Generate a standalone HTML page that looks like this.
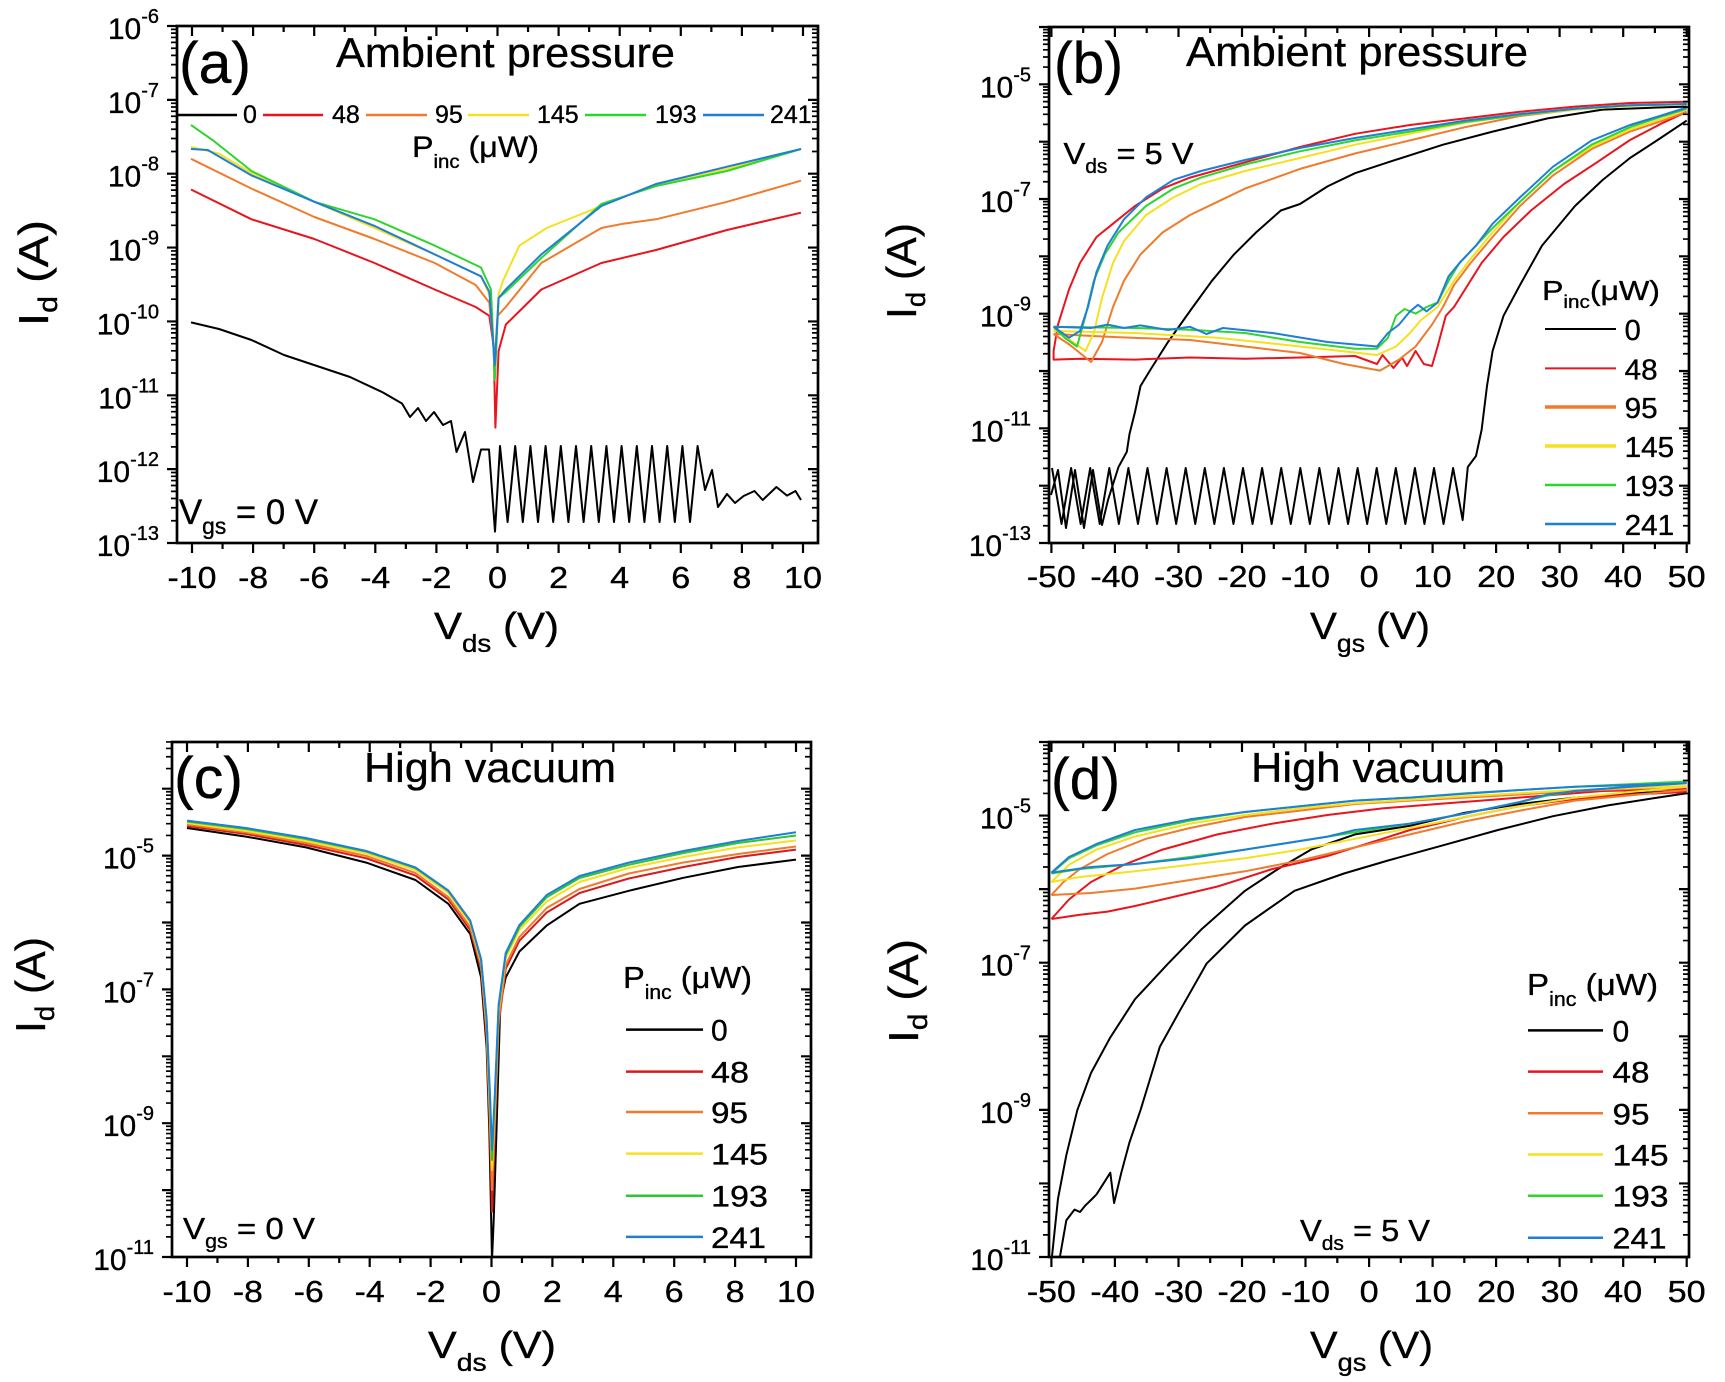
<!DOCTYPE html>
<html><head><meta charset="utf-8">
<style>
html,body{margin:0;padding:0;background:#fff}
svg{display:block}
text{font-family:"Liberation Sans",Arial,sans-serif;fill:#000;stroke:#000;stroke-width:0.35px}
</style></head>
<body>
<svg width="1725" height="1382" viewBox="0 0 1725 1382">
<defs>
<path id="m" d="M0,-0.30103h-6M0,-0.47712h-6M0,-0.60206h-6M0,-0.69897h-6M0,-0.77815h-6M0,-0.8451h-6M0,-0.90309h-6M0,-0.95424h-6" stroke="#000" stroke-width="1.7" vector-effect="non-scaling-stroke" fill="none"/>
<g id="xa" stroke="#000" stroke-width="2.2" fill="none"><path d="M192,0v10M253.1,0v10M314.2,0v10M375.3,0v10M436.4,0v10M497.5,0v10M558.6,0v10M619.7,0v10M680.8,0v10M741.9,0v10M803,0v10M222.55,0v6M283.65,0v6M344.75,0v6M405.85,0v6M466.95,0v6M528.05,0v6M589.15,0v6M650.25,0v6M711.35,0v6M772.45,0v6"/></g>
<g id="xc" stroke="#000" stroke-width="2.2" fill="none"><path d="M187,0v10M247.9,0v10M308.8,0v10M369.7,0v10M430.6,0v10M491.5,0v10M552.4,0v10M613.3,0v10M674.2,0v10M735.1,0v10M796,0v10M217.45,0v6M278.35,0v6M339.25,0v6M400.15,0v6M461.05,0v6M521.95,0v6M582.85,0v6M643.75,0v6M704.65,0v6M765.55,0v6"/></g>
<g id="xb" stroke="#000" stroke-width="2.2" fill="none"><path d="M1051.4,0v10M1114.9,0v10M1178.5,0v10M1242,0v10M1305.5,0v10M1369.1,0v10M1432.6,0v10M1496.1,0v10M1559.6,0v10M1623.2,0v10M1686.7,0v10M1083.2,0v6M1146.7,0v6M1210.2,0v6M1273.8,0v6M1337.3,0v6M1400.8,0v6M1464.3,0v6M1527.9,0v6M1591.4,0v6M1654.9,0v6"/></g>
<clipPath id="ca"><rect x="177" y="26" width="641" height="517"/></clipPath>
<clipPath id="cb"><rect x="1049" y="27" width="640" height="516"/></clipPath>
<clipPath id="cc"><rect x="172" y="742" width="639" height="515"/></clipPath>
<clipPath id="cd"><rect x="1049" y="742" width="640" height="515"/></clipPath>
<clipPath id="ctc"><rect x="140" y="741" width="700" height="520"/></clipPath>
</defs>
<rect width="1725" height="1382" fill="#fff"/>

<!-- ================= PANEL A ================= -->
<g fill="none" stroke-width="2" stroke-linejoin="round" clip-path="url(#ca)">
<path stroke="#000" d="M191,322.4 L219,329 L251.5,340 L284,355 L317,366 L350,377 L383,392.5 L402,403.5 L410,417 L418,408 L426,421 L434,412 L443,425 L451,421 L456.5,452 L465,432 L473,482 L481,449.5 L489,449.5 L495,531.6 L500,446 L507.6,522 L515.2,446 L522.8,522 L530.4,446 L538,522 L545.6,446 L553.2,522 L560.8,446 L568.4,522 L576,446 L583.6,522 L591.2,446 L598.8,522 L606.4,446 L614,522 L621.6,446 L629.2,522 L636.8,446 L644.4,522 L652,446 L659.6,522 L667.2,446 L674.8,522 L682.4,446 L690,522 L697.6,446 L705,490 L712,470 L718,507 L727,494 L735,503 L743.6,496 L754.5,491 L762.7,500 L776.4,487 L787,495.6 L795.5,491 L801,500"/>
<path stroke="#e8141e" d="M191,189.5 L251.5,219.3 L314.4,239 L374.5,263 L434.7,289.5 L475.7,307 L489.3,315.8 L493.7,346.5 L495.4,427.6 L498.6,351 L505.8,324.6 L541.3,289.5 L601.4,263 L656,250 L727,230 L801,212.7"/>
<path stroke="#f07b2c" d="M191,158.8 L251.5,188.6 L314.4,217 L374.5,239 L434.7,263 L475.7,285 L489.3,302.6 L494.8,360 L497.5,315.8 L505.7,307 L541.3,263 L601.4,228 L623.3,223.7 L656,219.3 L727,201.8 L801,180.7"/>
<path stroke="#f5e11e" d="M191,147 L218.7,153.5 L251.5,173 L314.4,201.8 L374.5,228 L434.7,254.4 L481,276.3 L491,298 L494.8,370 L498.6,294 L503,280.7 L519.4,245.6 L546.7,228 L601.4,206 L656,184 L727,168.9 L801,149"/>
<path stroke="#2ed52e" d="M191,125 L213,140.4 L251.5,171 L314.4,201.8 L374.5,219.3 L434.7,245.6 L481,267.5 L491,289.5 L494.8,380 L498.6,298 L505.7,292 L541.3,258 L601.4,204 L656,186 L727,171 L801,149"/>
<path stroke="#1f7fd6" d="M191,149 L207.8,150 L251.5,175.4 L314.4,201.8 L374.5,225.9 L434.7,254.4 L481,276.3 L489.3,291.7 L494.8,365 L498.6,298 L505.7,289.5 L541.3,254.4 L601.4,206 L656,184 L727,166.7 L801,149"/>
</g>
<g stroke-width="2.5" fill="none">
<path stroke="#000" d="M178,115H237"/>
<path stroke="#e8141e" d="M263,115H323"/>
<path stroke="#f07b2c" d="M366,115H427"/>
<path stroke="#f5e11e" d="M468,115H529"/>
<path stroke="#2ed52e" d="M585,115H646"/>
<path stroke="#1f7fd6" d="M703,115H764"/>
</g>
<g font-size="25">
<text x="243" y="123">0</text>
<text x="332" y="123">48</text>
<text x="435" y="123">95</text>
<text x="537" y="123">145</text>
<text x="655" y="123">193</text>
<text x="770" y="123">241</text>
</g>
<text x="412" y="157" font-size="30" textLength="127" lengthAdjust="spacingAndGlyphs">P<tspan font-size="19" dy="11">inc</tspan><tspan dy="-11"> (μW)</tspan></text>
<rect x="177" y="26" width="641" height="517" fill="none" stroke="#000" stroke-width="2.7"/>
<use href="#xa" y="543"/><use href="#xa" y="26"/>
<path stroke="#000" stroke-width="2.2" d="M177,26h-10M177,99.86h-10M177,173.71h-10M177,247.57h-10M177,321.43h-10M177,395.29h-10M177,469.14h-10M177,543h-10M818,26h-10M818,99.86h-10M818,173.71h-10M818,247.57h-10M818,321.43h-10M818,395.29h-10M818,469.14h-10M818,543h-10"/>
<use href="#m" transform="translate(177,543) scale(1,73.86)"/><use href="#m" transform="translate(177,469.14) scale(1,73.86)"/><use href="#m" transform="translate(177,395.29) scale(1,73.86)"/><use href="#m" transform="translate(177,321.43) scale(1,73.86)"/><use href="#m" transform="translate(177,247.57) scale(1,73.86)"/><use href="#m" transform="translate(177,173.71) scale(1,73.86)"/><use href="#m" transform="translate(177,99.86) scale(1,73.86)"/>
<use href="#m" transform="translate(818,543) scale(1,73.86)"/><use href="#m" transform="translate(818,469.14) scale(1,73.86)"/><use href="#m" transform="translate(818,395.29) scale(1,73.86)"/><use href="#m" transform="translate(818,321.43) scale(1,73.86)"/><use href="#m" transform="translate(818,247.57) scale(1,73.86)"/><use href="#m" transform="translate(818,173.71) scale(1,73.86)"/><use href="#m" transform="translate(818,99.86) scale(1,73.86)"/>
<g font-size="30" text-anchor="end">
<text x="159" y="39">10<tspan font-size="20" dy="-16">-6</tspan></text>
<text x="159" y="112.9">10<tspan font-size="20" dy="-16">-7</tspan></text>
<text x="159" y="186.7">10<tspan font-size="20" dy="-16">-8</tspan></text>
<text x="159" y="260.6">10<tspan font-size="20" dy="-16">-9</tspan></text>
<text x="159" y="334.4">10<tspan font-size="20" dy="-16">-10</tspan></text>
<text x="159" y="408.3">10<tspan font-size="20" dy="-16">-11</tspan></text>
<text x="159" y="482.1">10<tspan font-size="20" dy="-16">-12</tspan></text>
<text x="159" y="556">10<tspan font-size="20" dy="-16">-13</tspan></text>
</g>
<g font-size="31" text-anchor="middle" lengthAdjust="spacingAndGlyphs">
<text x="192" y="588" textLength="49" lengthAdjust="spacingAndGlyphs">-10</text><text x="253.1" y="588" textLength="30" lengthAdjust="spacingAndGlyphs">-8</text><text x="314.2" y="588" textLength="30" lengthAdjust="spacingAndGlyphs">-6</text><text x="375.3" y="588" textLength="30" lengthAdjust="spacingAndGlyphs">-4</text><text x="436.4" y="588" textLength="30" lengthAdjust="spacingAndGlyphs">-2</text><text x="497.5" y="588" textLength="19" lengthAdjust="spacingAndGlyphs">0</text><text x="558.6" y="588" textLength="19" lengthAdjust="spacingAndGlyphs">2</text><text x="619.7" y="588" textLength="19" lengthAdjust="spacingAndGlyphs">4</text><text x="680.8" y="588" textLength="19" lengthAdjust="spacingAndGlyphs">6</text><text x="741.9" y="588" textLength="19" lengthAdjust="spacingAndGlyphs">8</text><text x="803" y="588" textLength="38" lengthAdjust="spacingAndGlyphs">10</text>
</g>
<text x="179" y="83" font-size="58" textLength="72" lengthAdjust="spacingAndGlyphs">(a)</text>
<text x="336" y="67" font-size="42" textLength="339" lengthAdjust="spacingAndGlyphs">Ambient pressure</text>
<text x="179" y="524" font-size="35" textLength="139" lengthAdjust="spacingAndGlyphs">V<tspan font-size="23" dy="10">gs</tspan><tspan dy="-10"> = 0 V</tspan></text>
<text x="434" y="639" font-size="38" textLength="125" lengthAdjust="spacingAndGlyphs">V<tspan font-size="25" dy="13">ds</tspan><tspan dy="-13"> (V)</tspan></text>
<text transform="translate(48,326) rotate(-90)" font-size="42" textLength="106" lengthAdjust="spacingAndGlyphs">I<tspan font-size="27" dy="9">d</tspan><tspan dy="-9"> (A)</tspan></text>

<!-- ================= PANEL B ================= -->
<g fill="none" stroke-width="2" stroke-linejoin="round" clip-path="url(#cb)">
<path stroke="#000" d="M1052,468 L1061.55,524 L1071.1,468 L1080.65,524 L1090.2,468 L1099.75,524 L1109.3,468 L1118.85,524 L1128.4,468 L1137.95,524 L1147.5,468 L1157.05,524 L1166.6,468 L1176.15,524 L1185.7,468 L1195.25,524 L1204.8,468 L1214.35,524 L1223.9,468 L1233.45,524 L1243,468 L1252.55,524 L1262.1,468 L1271.65,524 L1281.2,468 L1290.75,524 L1300.3,468 L1309.85,524 L1319.4,468 L1328.95,524 L1338.5,468 L1348.05,524 L1357.6,468 L1367.15,524 L1376.7,468 L1386.25,524 L1395.8,468 L1405.35,524 L1414.9,468 L1424.45,524 L1434,468 L1443.55,524 L1453.1,468 L1462.65,520 L1467.8,467 L1476,456 L1481.6,430 L1487,386 L1492.6,351 L1503.5,315.8 L1520,285 L1542,245.6 L1575,206 L1602.6,180 L1630,158 L1657.6,140 L1686.7,120.6"/>
<path stroke="#000" d="M1051,495 L1058,470 L1066,528 L1075,470 L1084,528 L1093,470 L1102,525 L1108,500 L1118.5,467 L1126.8,451.8 L1129.5,434 L1135,412 L1140.5,386 L1151.5,368 L1168,342 L1190,311 L1212,280.7 L1234,254.4 L1256,232.5 L1280.8,210.5 L1300,204 L1327.5,186.4 L1355,173.2 L1388,162.3 L1443,144.7 L1492.6,131.6 L1547.6,118.4 L1602.6,109.6 L1657.6,107.5 L1686.7,106.6"/>
<path stroke="#e8141e" d="M1053.6,351 L1058,324.6 L1069,289.5 L1080,263 L1096.5,237 L1113,223.7 L1135,206 L1162.5,188.6 L1190,177.6 L1245,162.3 L1300,147 L1355,133.8 L1410,125 L1465,118.4 L1520,111.8 L1575,106.6 L1630,103 L1686.7,101.8 M1053.6,351 L1053.6,359.6 L1080,358.8 L1135,359.6 L1190,357.5 L1245,358.8 L1300,357.5 L1355,356 L1377,364 L1382.5,355 L1393.5,368 L1402,357.5 L1407,366 L1415.6,351 L1423.8,364 L1432,366 L1437.6,346.5 L1445.8,315.8 L1454,307 L1465,289.5 L1481.6,263 L1503.5,237 L1531,210.5 L1564,184 L1597,162.3 L1630,140 L1663,122.8 L1686.7,111.8"/>
<path stroke="#f07b2c" d="M1053.6,334 L1070,345 L1091,362 L1102,342 L1113,307 L1124,280.7 L1140.5,254.4 L1162.5,232.5 L1190,215 L1217.5,201.8 L1245,188.6 L1300,168.9 L1355,153.5 L1410,140.4 L1465,127.2 L1520,116 L1575,109.6 L1630,105.3 L1686.7,104 M1053.6,334 L1107.5,336.8 L1190,340 L1245,346.5 L1300,353 L1344,364 L1380,370.6 L1399,359.6 L1415.6,346.5 L1432,324.6 L1443,307 L1454,285 L1470.6,263 L1492.6,237 L1520,206 L1553,175.4 L1591.6,149 L1630,131.6 L1663,120.6 L1686.7,111.8"/>
<path stroke="#f5e11e" d="M1053.6,329 L1070,340 L1085.5,351 L1093.8,333 L1102,298 L1113,263 L1124,241 L1146,215 L1173.5,197.4 L1201,184 L1245,171 L1300,158 L1355,144.7 L1410,133.8 L1465,122.8 L1520,115 L1575,109.6 L1630,106 L1686.7,104.4 M1053.6,331 L1135,333 L1217.5,337.7 L1300,346.5 L1377,355 L1396,346.5 L1410,333 L1421,320 L1437.6,307 L1454,280.7 L1470.6,258.8 L1492.6,232.5 L1520,201.8 L1553,171 L1591.6,147 L1630,129.4 L1663,118.4 L1686.7,109.6"/>
<path stroke="#2ed52e" d="M1053.6,326.8 L1065,338 L1077,346.5 L1085.5,315.8 L1093.8,280.7 L1104.8,254.4 L1118.5,232.5 L1146,206 L1173.5,188.6 L1201,177.6 L1245,164.5 L1300,151.3 L1355,140.4 L1410,131.6 L1465,122 L1520,115 L1575,108.8 L1630,105.3 L1686.7,104 M1053.6,326.8 L1135,328 L1190,329.8 L1245,333 L1300,342 L1355,348.7 L1377,348.7 L1388,337.7 L1396,315.8 L1404.6,309 L1415.6,313.6 L1426.6,307 L1437.6,302.6 L1448.6,280.7 L1459.5,263 L1476,245.6 L1492.6,228 L1520,201.8 L1553,171 L1591.6,144.7 L1630,127.2 L1663,116 L1686.7,108.8"/>
<path stroke="#1f7fd6" d="M1053.6,326.8 L1069,337.7 L1080,331 L1088,307 L1096.5,272 L1107.5,245.6 L1124,219.3 L1146,197.4 L1173.5,179.8 L1201,171 L1245,160 L1300,148 L1355,138 L1410,129.4 L1465,120.6 L1520,114 L1575,108.8 L1630,105.3 L1686.7,104 M1053.6,326.8 L1091,328 L1107.5,324.6 L1124,328 L1140.5,325.4 L1168,330 L1190,326.8 L1206.5,334 L1223,328 L1272.5,333 L1327.5,342 L1377,346.5 L1388,333 L1399,324.6 L1410,311.4 L1418,304.8 L1426.6,311.4 L1437.6,302.6 L1448.6,276.3 L1459.5,263 L1476,245.6 L1492.6,223.7 L1520,197.4 L1553,166.7 L1591.6,140.4 L1630,125 L1663,115 L1686.7,107.5"/>
</g>
<g fill="none">
<path stroke="#000" stroke-width="2" d="M1545,329H1616"/>
<path stroke="#e8141e" stroke-width="2" d="M1545,368.4H1616"/>
<path stroke="#f07b2c" stroke-width="3.5" d="M1545,407H1616"/>
<path stroke="#f5e11e" stroke-width="3.5" d="M1545,446H1616"/>
<path stroke="#2ed52e" stroke-width="2.5" d="M1545,485H1616"/>
<path stroke="#1f7fd6" stroke-width="2.5" d="M1545,524H1616"/>
</g>
<g font-size="29">
<text x="1624.6" y="340">0</text>
<text x="1624.6" y="379.4" textLength="33" lengthAdjust="spacingAndGlyphs">48</text>
<text x="1624.6" y="418" textLength="33" lengthAdjust="spacingAndGlyphs">95</text>
<text x="1624.6" y="457" textLength="49.5" lengthAdjust="spacingAndGlyphs">145</text>
<text x="1624.6" y="496" textLength="49.5" lengthAdjust="spacingAndGlyphs">193</text>
<text x="1624.6" y="535" textLength="49.5" lengthAdjust="spacingAndGlyphs">241</text>
</g>
<text x="1542" y="300" font-size="28" textLength="118" lengthAdjust="spacingAndGlyphs">P<tspan font-size="18" dy="8">inc</tspan><tspan dy="-8">(μW)</tspan></text>
<rect x="1049" y="27" width="640" height="516" fill="none" stroke="#000" stroke-width="2.7"/>
<use href="#xb" y="543"/><use href="#xb" y="27"/>
<path stroke="#000" stroke-width="2.2" d="M1049,27h-10M1049,84.33h-10M1049,141.67h-10M1049,199h-10M1049,256.33h-10M1049,313.67h-10M1049,371h-10M1049,428.33h-10M1049,485.67h-10M1049,543h-10M1689,27h-10M1689,84.33h-10M1689,141.67h-10M1689,199h-10M1689,256.33h-10M1689,313.67h-10M1689,371h-10M1689,428.33h-10M1689,485.67h-10M1689,543h-10"/>
<use href="#m" transform="translate(1049,543) scale(1,57.33)"/><use href="#m" transform="translate(1049,485.67) scale(1,57.33)"/><use href="#m" transform="translate(1049,428.33) scale(1,57.33)"/><use href="#m" transform="translate(1049,371) scale(1,57.33)"/><use href="#m" transform="translate(1049,313.67) scale(1,57.33)"/><use href="#m" transform="translate(1049,256.33) scale(1,57.33)"/><use href="#m" transform="translate(1049,199) scale(1,57.33)"/><use href="#m" transform="translate(1049,141.67) scale(1,57.33)"/><use href="#m" transform="translate(1049,84.33) scale(1,57.33)"/>
<use href="#m" transform="translate(1689,543) scale(1,57.33)"/><use href="#m" transform="translate(1689,485.67) scale(1,57.33)"/><use href="#m" transform="translate(1689,428.33) scale(1,57.33)"/><use href="#m" transform="translate(1689,371) scale(1,57.33)"/><use href="#m" transform="translate(1689,313.67) scale(1,57.33)"/><use href="#m" transform="translate(1689,256.33) scale(1,57.33)"/><use href="#m" transform="translate(1689,199) scale(1,57.33)"/><use href="#m" transform="translate(1689,141.67) scale(1,57.33)"/><use href="#m" transform="translate(1689,84.33) scale(1,57.33)"/>
<g font-size="30" text-anchor="end">
<text x="1031" y="97.3">10<tspan font-size="20" dy="-16">-5</tspan></text>
<text x="1031" y="212">10<tspan font-size="20" dy="-16">-7</tspan></text>
<text x="1031" y="326.7">10<tspan font-size="20" dy="-16">-9</tspan></text>
<text x="1031" y="441.3">10<tspan font-size="20" dy="-16">-11</tspan></text>
<text x="1031" y="556">10<tspan font-size="20" dy="-16">-13</tspan></text>
</g>
<g font-size="31" text-anchor="middle">
<text x="1051.4" y="587" textLength="49" lengthAdjust="spacingAndGlyphs">-50</text><text x="1114.9" y="587" textLength="49" lengthAdjust="spacingAndGlyphs">-40</text><text x="1178.5" y="587" textLength="49" lengthAdjust="spacingAndGlyphs">-30</text><text x="1242" y="587" textLength="49" lengthAdjust="spacingAndGlyphs">-20</text><text x="1305.5" y="587" textLength="49" lengthAdjust="spacingAndGlyphs">-10</text><text x="1369.1" y="587" textLength="19" lengthAdjust="spacingAndGlyphs">0</text><text x="1432.6" y="587" textLength="38" lengthAdjust="spacingAndGlyphs">10</text><text x="1496.1" y="587" textLength="38" lengthAdjust="spacingAndGlyphs">20</text><text x="1559.6" y="587" textLength="38" lengthAdjust="spacingAndGlyphs">30</text><text x="1623.2" y="587" textLength="38" lengthAdjust="spacingAndGlyphs">40</text><text x="1686.7" y="587" textLength="38" lengthAdjust="spacingAndGlyphs">50</text>
</g>
<text x="1054" y="83" font-size="58" textLength="69" lengthAdjust="spacingAndGlyphs">(b)</text>
<text x="1186" y="66" font-size="42" textLength="342" lengthAdjust="spacingAndGlyphs">Ambient pressure</text>
<text x="1063.5" y="164" font-size="31" textLength="130" lengthAdjust="spacingAndGlyphs">V<tspan font-size="20" dy="9">ds</tspan><tspan dy="-9"> = 5 V</tspan></text>
<text x="1310" y="639" font-size="38" textLength="120" lengthAdjust="spacingAndGlyphs">V<tspan font-size="25" dy="13">gs</tspan><tspan dy="-13"> (V)</tspan></text>
<text transform="translate(916,319) rotate(-90)" font-size="42" textLength="96" lengthAdjust="spacingAndGlyphs">I<tspan font-size="27" dy="9">d</tspan><tspan dy="-9"> (A)</tspan></text>

<!-- ================= PANEL C ================= -->
<g fill="none" stroke-width="2" stroke-linejoin="round" clip-path="url(#cc)">
<path stroke="#000" d="M187,828 L246,836.6 L306,847.4 L366.3,862.6 L415.5,880 L448.3,903.8 L470.2,934 L481.1,977.5 L486.6,1047 L489.4,1133.6 L492,1260 L493.7,1220 L496.4,1133.6 L500.3,1003.6 L505.7,977.5 L519.4,951.5 L546.7,925.5 L579.5,903.8 L628.8,890.8 L683.4,877.8 L738,867 L796,859.6"/>
<path stroke="#d81c1c" d="M187,826 L246,834 L306,845 L366.3,858.3 L415.5,875.6 L448.3,899.5 L470.2,929.8 L481.1,968.9 L486.6,1038 L490,1133.6 L492,1211.7 L494.8,1133.6 L498.6,1025 L505.7,968.9 L519.4,940.7 L546.7,912.5 L579.5,893 L628.8,878.5 L683.4,867 L738,857 L796,849.6"/>
<path stroke="#f07b2c" d="M187,824.5 L246,832.5 L306,843 L366.3,856 L415.5,873 L448.3,897 L470.2,927 L481.1,966 L486.6,1030 L490,1120 L492,1190 L494.8,1120 L498.6,1020 L505.7,965 L519.4,937 L546.7,908 L579.5,889 L628.8,873.5 L683.4,862.5 L738,854 L796,846.5"/>
<path stroke="#f5e11e" d="M187,823 L246,831 L306,841 L366.3,853.5 L415.5,870 L448.3,893 L470.2,923 L481.1,962 L486.6,1025 L490,1110 L492,1170 L494.8,1110 L498.6,1012 L505.7,958 L519.4,930 L546.7,901.6 L579.5,882 L628.8,868 L683.4,857 L738,847.4 L796,840.5"/>
<path stroke="#2ec52e" d="M187,821.5 L246,829 L306,839 L366.3,851.5 L415.5,868 L448.3,891 L470.2,921 L481.1,960 L486.6,1020 L490,1100 L492,1160 L494.8,1100 L498.6,1008 L505.7,955 L519.4,927 L546.7,897.3 L579.5,878 L628.8,864.8 L683.4,853 L738,843 L796,835.5"/>
<path stroke="#1f7fd6" d="M187,820.6 L246,828 L306,838 L366.3,851 L415.5,867.5 L448.3,890.5 L470.2,920.5 L481.1,959 L486.6,1018 L490,1095 L492,1150 L494.8,1095 L498.6,1005 L505.7,953 L519.4,925 L546.7,895 L579.5,876 L628.8,862.6 L683.4,851 L738,841 L796,832.3"/>
</g>
<g fill="none" stroke-width="2.5">
<path stroke="#000" d="M626,1029.6H703"/>
<path stroke="#d81c1c" d="M626,1071.6H703"/>
<path stroke="#f07b2c" d="M626,1112H703"/>
<path stroke="#f5e11e" d="M626,1153.6H703"/>
<path stroke="#2ec52e" d="M626,1195.7H703"/>
<path stroke="#1f7fd6" d="M626,1236.9H703"/>
</g>
<g font-size="30">
<text x="711" y="1040.6">0</text>
<text x="711" y="1082.6" textLength="38" lengthAdjust="spacingAndGlyphs">48</text>
<text x="711" y="1123" textLength="37" lengthAdjust="spacingAndGlyphs">95</text>
<text x="711" y="1164.6" textLength="57" lengthAdjust="spacingAndGlyphs">145</text>
<text x="711" y="1206.7" textLength="57" lengthAdjust="spacingAndGlyphs">193</text>
<text x="711" y="1247.9" textLength="55" lengthAdjust="spacingAndGlyphs">241</text>
</g>
<text x="623" y="988" font-size="31" textLength="129" lengthAdjust="spacingAndGlyphs">P<tspan font-size="20" dy="11">inc</tspan><tspan dy="-11"> (μW)</tspan></text>
<rect x="172" y="742" width="639" height="515" fill="none" stroke="#000" stroke-width="2.7"/>
<use href="#xc" y="1257"/><use href="#xc" y="742"/>
<path stroke="#000" stroke-width="2.2" d="M172,788.7h-10M172,855.6h-10M172,922.5h-10M172,989.4h-10M172,1056.3h-10M172,1123.2h-10M172,1190.1h-10M172,1257h-10M811,788.7h-10M811,855.6h-10M811,922.5h-10M811,989.4h-10M811,1056.3h-10M811,1123.2h-10M811,1190.1h-10M811,1257h-10"/>
<g clip-path="url(#ctc)">
<use href="#m" transform="translate(172,1257) scale(1,66.9)"/><use href="#m" transform="translate(172,1190.1) scale(1,66.9)"/><use href="#m" transform="translate(172,1123.2) scale(1,66.9)"/><use href="#m" transform="translate(172,1056.3) scale(1,66.9)"/><use href="#m" transform="translate(172,989.4) scale(1,66.9)"/><use href="#m" transform="translate(172,922.5) scale(1,66.9)"/><use href="#m" transform="translate(172,855.6) scale(1,66.9)"/><use href="#m" transform="translate(172,788.7) scale(1,66.9)"/>
<use href="#m" transform="translate(811,1257) scale(1,66.9)"/><use href="#m" transform="translate(811,1190.1) scale(1,66.9)"/><use href="#m" transform="translate(811,1123.2) scale(1,66.9)"/><use href="#m" transform="translate(811,1056.3) scale(1,66.9)"/><use href="#m" transform="translate(811,989.4) scale(1,66.9)"/><use href="#m" transform="translate(811,922.5) scale(1,66.9)"/><use href="#m" transform="translate(811,855.6) scale(1,66.9)"/><use href="#m" transform="translate(811,788.7) scale(1,66.9)"/>
</g>
<g font-size="30" text-anchor="end">
<text x="154" y="868.6">10<tspan font-size="20" dy="-16">-5</tspan></text>
<text x="154" y="1002.4">10<tspan font-size="20" dy="-16">-7</tspan></text>
<text x="154" y="1136.2">10<tspan font-size="20" dy="-16">-9</tspan></text>
<text x="154" y="1270">10<tspan font-size="20" dy="-16">-11</tspan></text>
</g>
<g font-size="31" text-anchor="middle">
<text x="187" y="1302" textLength="49" lengthAdjust="spacingAndGlyphs">-10</text><text x="247.9" y="1302" textLength="30" lengthAdjust="spacingAndGlyphs">-8</text><text x="308.8" y="1302" textLength="30" lengthAdjust="spacingAndGlyphs">-6</text><text x="369.7" y="1302" textLength="30" lengthAdjust="spacingAndGlyphs">-4</text><text x="430.6" y="1302" textLength="30" lengthAdjust="spacingAndGlyphs">-2</text><text x="491.5" y="1302" textLength="19" lengthAdjust="spacingAndGlyphs">0</text><text x="552.4" y="1302" textLength="19" lengthAdjust="spacingAndGlyphs">2</text><text x="613.3" y="1302" textLength="19" lengthAdjust="spacingAndGlyphs">4</text><text x="674.2" y="1302" textLength="19" lengthAdjust="spacingAndGlyphs">6</text><text x="735.1" y="1302" textLength="19" lengthAdjust="spacingAndGlyphs">8</text><text x="796" y="1302" textLength="38" lengthAdjust="spacingAndGlyphs">10</text>
</g>
<text x="174" y="798" font-size="58" textLength="69" lengthAdjust="spacingAndGlyphs">(c)</text>
<text x="364" y="782" font-size="42" textLength="252" lengthAdjust="spacingAndGlyphs">High vacuum</text>
<text x="183" y="1239" font-size="31" textLength="132" lengthAdjust="spacingAndGlyphs">V<tspan font-size="20" dy="9">gs</tspan><tspan dy="-9"> = 0 V</tspan></text>
<text x="428" y="1358" font-size="38" textLength="128" lengthAdjust="spacingAndGlyphs">V<tspan font-size="25" dy="13">ds</tspan><tspan dy="-13"> (V)</tspan></text>
<text transform="translate(45,1033) rotate(-90)" font-size="42" textLength="96" lengthAdjust="spacingAndGlyphs">I<tspan font-size="27" dy="9">d</tspan><tspan dy="-9"> (A)</tspan></text>

<!-- ================= PANEL D ================= -->
<g fill="none" stroke-width="2" stroke-linejoin="round" clip-path="url(#cd)">
<path stroke="#000" d="M1051.4,1262 L1058,1198.7 L1066.3,1155.3 L1077.3,1110.2 L1091,1073 L1110.3,1037.4 L1135,999.2 L1168,963.7 L1201,929.8 L1245,890.8 L1278,869 L1311,849.6 L1355,834.4 L1410,825.8 L1465,812.7 L1520,804 L1575,797.6 L1630,793.2 L1686.7,791"/>
<path stroke="#000" d="M1059,1262 L1066.3,1220.4 L1074.5,1209.6 L1080,1212 L1085.5,1205.3 L1091,1200 L1096.5,1194.4 L1104.8,1181.4 L1110.3,1172.7 L1114.1,1203 L1121.3,1172.7 L1129.5,1142.3 L1140.5,1110.2 L1159.8,1046.9 L1179,1012.2 L1206.5,963.7 L1245,925.5 L1294.5,890.8 L1344,873.5 L1388,860.5 L1443,845.3 L1498,830 L1553,816.2 L1608,805.4 L1657.6,797.6 L1686.7,793.2"/>
<path stroke="#e8141e" d="M1051.4,919 L1069,899.5 L1091,882 L1124,864.8 L1162.5,849.6 L1217.5,834.4 L1272.5,823.6 L1327.5,815 L1382.5,808.4 L1437.6,804 L1492.6,799.7 L1547.6,795.4 L1602.6,791 L1686.7,789 M1051.4,919 L1080,914.7 L1107.5,911.6 L1135,906 L1162.5,899.5 L1190,893 L1217.5,886.5 L1245,877.8 L1272.5,869 L1300,862.6 L1327.5,856 L1355,847.4 L1382.5,838.8 L1410,830 L1437.6,823.6 L1465,817 L1520,806.2 L1575,798.9 L1630,794.5 L1686.7,792"/>
<path stroke="#f07b2c" d="M1051.4,895 L1063.5,882 L1080,869 L1107.5,854 L1146,838.8 L1190,828 L1245,817 L1300,810.6 L1355,804 L1410,800.6 L1465,797.6 L1520,794.5 L1575,791 L1686.7,786.7 M1051.4,895 L1091,893 L1135,888.6 L1190,880 L1245,871.3 L1300,860.5 L1355,847.4 L1410,834.4 L1465,821.4 L1520,810.6 L1575,800.6 L1630,795.4 L1686.7,790"/>
<path stroke="#f5e11e" d="M1051.4,882 L1069,864.8 L1096.5,849.6 L1135,836.6 L1190,823.6 L1245,815 L1300,808.4 L1355,803.2 L1410,799.7 L1465,796.3 L1520,793.2 L1575,790 L1686.7,786 M1051.4,882 L1080,877 L1135,871.3 L1190,864.8 L1245,858.3 L1300,849.6 L1355,838.8 L1410,828 L1465,817 L1520,806.2 L1575,797.6 L1630,792 L1686.7,786.7"/>
<path stroke="#2ed52e" d="M1051.4,873.5 L1069,858.3 L1096.5,845.3 L1135,832.3 L1190,820.6 L1245,812 L1300,806.2 L1355,800.6 L1410,797.6 L1465,793.2 L1520,790 L1575,786.7 L1686.7,781.5 M1051.4,873.5 L1080,869 L1135,864 L1190,857 L1245,849.6 L1300,841 L1355,832.3 L1410,823.6 L1465,813.6 L1520,802 L1547.6,795.4 L1575,791 L1630,786.7 L1686.7,782.4"/>
<path stroke="#1f7fd6" d="M1051.4,872.6 L1069,857 L1096.5,844 L1135,830 L1190,819.3 L1245,812 L1300,806.2 L1355,800.6 L1410,797.6 L1465,793.7 L1520,790 L1575,786.7 L1686.7,783.3 M1051.4,872.6 L1091,867 L1135,864 L1190,858.3 L1245,849.6 L1300,841 L1327.5,836.6 L1355,830 L1410,823.6 L1465,813.6 L1520,802 L1547.6,794.5 L1575,791 L1630,786.7 L1686.7,783.3"/>
</g>
<g fill="none" stroke-width="2.5">
<path stroke="#000" d="M1528,1030.4H1603"/>
<path stroke="#e8141e" d="M1528,1071.6H1603"/>
<path stroke="#f07b2c" d="M1528,1113.3H1603"/>
<path stroke="#f5e11e" d="M1528,1154.5H1603"/>
<path stroke="#2ed52e" d="M1528,1195.7H1603"/>
<path stroke="#1f7fd6" d="M1528,1237.7H1603"/>
</g>
<g font-size="30">
<text x="1612.5" y="1041.4">0</text>
<text x="1612.5" y="1082.6" textLength="37" lengthAdjust="spacingAndGlyphs">48</text>
<text x="1612.5" y="1124.3" textLength="37" lengthAdjust="spacingAndGlyphs">95</text>
<text x="1612.5" y="1165.5" textLength="56" lengthAdjust="spacingAndGlyphs">145</text>
<text x="1612.5" y="1206.7" textLength="56" lengthAdjust="spacingAndGlyphs">193</text>
<text x="1612.5" y="1248.7" textLength="54" lengthAdjust="spacingAndGlyphs">241</text>
</g>
<text x="1527" y="995" font-size="31" textLength="131" lengthAdjust="spacingAndGlyphs">P<tspan font-size="20" dy="11">inc</tspan><tspan dy="-11"> (μW)</tspan></text>
<rect x="1049" y="742" width="640" height="515" fill="none" stroke="#000" stroke-width="2.7"/>
<use href="#xb" y="1257"/><use href="#xb" y="742"/>
<path stroke="#000" stroke-width="2.2" d="M1049,742h-10M1049,815.57h-10M1049,889.14h-10M1049,962.71h-10M1049,1036.29h-10M1049,1109.86h-10M1049,1183.43h-10M1049,1257h-10M1689,742h-10M1689,815.57h-10M1689,889.14h-10M1689,962.71h-10M1689,1036.29h-10M1689,1109.86h-10M1689,1183.43h-10M1689,1257h-10"/>
<use href="#m" transform="translate(1049,1257) scale(1,73.57)"/><use href="#m" transform="translate(1049,1183.43) scale(1,73.57)"/><use href="#m" transform="translate(1049,1109.86) scale(1,73.57)"/><use href="#m" transform="translate(1049,1036.29) scale(1,73.57)"/><use href="#m" transform="translate(1049,962.71) scale(1,73.57)"/><use href="#m" transform="translate(1049,889.14) scale(1,73.57)"/><use href="#m" transform="translate(1049,815.57) scale(1,73.57)"/>
<use href="#m" transform="translate(1689,1257) scale(1,73.57)"/><use href="#m" transform="translate(1689,1183.43) scale(1,73.57)"/><use href="#m" transform="translate(1689,1109.86) scale(1,73.57)"/><use href="#m" transform="translate(1689,1036.29) scale(1,73.57)"/><use href="#m" transform="translate(1689,962.71) scale(1,73.57)"/><use href="#m" transform="translate(1689,889.14) scale(1,73.57)"/><use href="#m" transform="translate(1689,815.57) scale(1,73.57)"/>
<g font-size="30" text-anchor="end">
<text x="1031" y="828.6">10<tspan font-size="20" dy="-16">-5</tspan></text>
<text x="1031" y="975.7">10<tspan font-size="20" dy="-16">-7</tspan></text>
<text x="1031" y="1122.9">10<tspan font-size="20" dy="-16">-9</tspan></text>
<text x="1031" y="1270">10<tspan font-size="20" dy="-16">-11</tspan></text>
</g>
<g font-size="31" text-anchor="middle">
<text x="1051.4" y="1302" textLength="49" lengthAdjust="spacingAndGlyphs">-50</text><text x="1114.9" y="1302" textLength="49" lengthAdjust="spacingAndGlyphs">-40</text><text x="1178.5" y="1302" textLength="49" lengthAdjust="spacingAndGlyphs">-30</text><text x="1242" y="1302" textLength="49" lengthAdjust="spacingAndGlyphs">-20</text><text x="1305.5" y="1302" textLength="49" lengthAdjust="spacingAndGlyphs">-10</text><text x="1369.1" y="1302" textLength="19" lengthAdjust="spacingAndGlyphs">0</text><text x="1432.6" y="1302" textLength="38" lengthAdjust="spacingAndGlyphs">10</text><text x="1496.1" y="1302" textLength="38" lengthAdjust="spacingAndGlyphs">20</text><text x="1559.6" y="1302" textLength="38" lengthAdjust="spacingAndGlyphs">30</text><text x="1623.2" y="1302" textLength="38" lengthAdjust="spacingAndGlyphs">40</text><text x="1686.7" y="1302" textLength="38" lengthAdjust="spacingAndGlyphs">50</text>
</g>
<text x="1051" y="799" font-size="58" textLength="69" lengthAdjust="spacingAndGlyphs">(d)</text>
<text x="1251" y="782" font-size="42" textLength="254" lengthAdjust="spacingAndGlyphs">High vacuum</text>
<text x="1300" y="1241" font-size="31" textLength="130" lengthAdjust="spacingAndGlyphs">V<tspan font-size="20" dy="9">ds</tspan><tspan dy="-9"> = 5 V</tspan></text>
<text x="1310" y="1358" font-size="38" textLength="123" lengthAdjust="spacingAndGlyphs">V<tspan font-size="25" dy="13">gs</tspan><tspan dy="-13"> (V)</tspan></text>
<text transform="translate(918,1043) rotate(-90)" font-size="42" textLength="104" lengthAdjust="spacingAndGlyphs">I<tspan font-size="27" dy="9">d</tspan><tspan dy="-9"> (A)</tspan></text>
</svg>
</body></html>
